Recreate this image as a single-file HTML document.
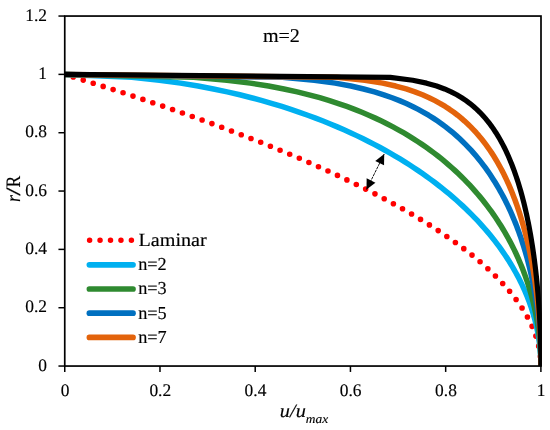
<!DOCTYPE html>
<html lang="en"><head><meta charset="utf-8"><title>Velocity profiles</title>
<style>html,body{margin:0;padding:0;background:#fff}svg{display:block}text{font-family:"Liberation Serif","DejaVu Serif",serif;text-rendering:geometricPrecision;fill:#000;stroke:#000;stroke-width:0.15px}</style></head><body>
<svg width="550" height="430" viewBox="0 0 550 430">
<rect width="550" height="430" fill="#fff"/>
<defs><clipPath id="plot"><rect x="64.0" y="15.3" width="477.75" height="351.5"/></clipPath></defs>
<g clip-path="url(#plot)">
<path d="M64.75,74.38 L74.23,77.30 L83.61,80.22 L92.89,83.13 L102.08,86.05 L111.17,88.97 L120.17,91.88 L129.08,94.80 L137.89,97.72 L146.60,100.63 L155.22,103.55 L163.74,106.47 L172.17,109.38 L180.50,112.30 L188.74,115.22 L196.88,118.13 L204.93,121.05 L212.88,123.97 L220.74,126.88 L228.50,129.80 L236.16,132.72 L243.73,135.63 L251.21,138.55 L258.59,141.47 L265.88,144.38 L273.07,147.30 L280.16,150.22 L287.16,153.13 L294.06,156.05 L300.87,158.97 L307.59,161.88 L314.20,164.80 L320.73,167.72 L327.16,170.63 L333.49,173.55 L339.73,176.47 L345.87,179.38 L351.92,182.30 L357.87,185.22 L363.72,188.13 L369.49,191.05 L375.15,193.97 L380.72,196.88 L386.20,199.80 L391.58,202.72 L396.86,205.63 L402.05,208.55 L407.15,211.47 L412.15,214.38 L417.05,217.30 L421.86,220.22 L426.58,223.13 L431.20,226.05 L435.72,228.97 L440.15,231.88 L444.48,234.80 L448.72,237.72 L452.86,240.63 L456.91,243.55 L460.86,246.47 L464.72,249.38 L468.48,252.30 L472.14,255.22 L475.72,258.13 L479.19,261.05 L482.57,263.97 L485.86,266.88 L489.05,269.80 L492.14,272.72 L495.14,275.63 L498.05,278.55 L500.86,281.47 L503.57,284.38 L506.19,287.30 L508.71,290.22 L511.14,293.13 L513.47,296.05 L515.71,298.97 L517.85,301.88 L519.90,304.80 L521.85,307.72 L523.71,310.63 L525.47,313.55 L527.14,316.47 L528.71,319.38 L530.19,322.30 L531.57,325.22 L532.85,328.13 L534.04,331.05 L535.14,333.97 L536.14,336.88 L537.04,339.80 L537.85,342.72 L538.57,345.63 L539.19,348.55 L539.71,351.47 L540.14,354.38 L540.47,357.30 L540.71,360.22 L540.85,363.13 L540.90,366.05" fill="none" stroke="#ff0000" stroke-width="5.6" stroke-linecap="round" stroke-dasharray="0 10.45" stroke-dashoffset="-8.9"/>
<path d="M64.75,74.38 L131.92,77.30 L159.50,80.22 L180.50,83.13 L198.07,86.05 L213.43,88.97 L227.20,91.88 L239.76,94.80 L251.36,97.72 L262.17,100.63 L272.30,103.55 L281.86,106.47 L290.91,109.38 L299.52,112.30 L307.73,115.22 L315.58,118.13 L323.10,121.05 L330.33,123.97 L337.28,126.88 L343.98,129.80 L350.44,132.72 L356.68,135.63 L362.71,138.55 L368.55,141.47 L374.21,144.38 L379.69,147.30 L385.01,150.22 L390.17,153.13 L395.19,156.05 L400.06,158.97 L404.79,161.88 L409.39,164.80 L413.87,167.72 L418.23,170.63 L422.47,173.55 L426.59,176.47 L430.61,179.38 L434.53,182.30 L438.34,185.22 L442.05,188.13 L445.67,191.05 L449.20,193.97 L452.63,196.88 L455.98,199.80 L459.24,202.72 L462.41,205.63 L465.51,208.55 L468.52,211.47 L471.46,214.38 L474.32,217.30 L477.11,220.22 L479.82,223.13 L482.46,226.05 L485.03,228.97 L487.53,231.88 L489.97,234.80 L492.33,237.72 L494.63,240.63 L496.87,243.55 L499.04,246.47 L501.15,249.38 L503.20,252.30 L505.18,255.22 L507.11,258.13 L508.98,261.05 L510.78,263.97 L512.53,266.88 L514.23,269.80 L515.86,272.72 L517.44,275.63 L518.97,278.55 L520.44,281.47 L521.85,284.38 L523.22,287.30 L524.52,290.22 L525.78,293.13 L526.98,296.05 L528.13,298.97 L529.23,301.88 L530.28,304.80 L531.28,307.72 L532.23,310.63 L533.12,313.55 L533.97,316.47 L534.77,319.38 L535.51,322.30 L536.21,325.22 L536.86,328.13 L537.46,331.05 L538.01,333.97 L538.51,336.88 L538.97,339.80 L539.37,342.72 L539.73,345.63 L540.04,348.55 L540.30,351.47 L540.52,354.38 L540.69,357.30 L540.80,360.22 L540.88,363.13 L540.90,366.05" fill="none" stroke="#00b0f0" stroke-width="5.5" stroke-linecap="butt" stroke-linejoin="round"/>
<path d="M64.75,74.38 L193.78,77.30 L227.05,80.22 L250.22,83.13 L268.54,86.05 L283.90,88.97 L297.23,91.88 L309.07,94.80 L319.75,97.72 L329.50,100.63 L338.48,103.55 L346.82,106.47 L354.61,109.38 L361.92,112.30 L368.81,115.22 L375.32,118.13 L381.50,121.05 L387.38,123.97 L392.99,126.88 L398.35,129.80 L403.47,132.72 L408.39,135.63 L413.11,138.55 L417.64,141.47 L422.01,144.38 L426.22,147.30 L430.28,150.22 L434.19,153.13 L437.98,156.05 L441.63,158.97 L445.17,161.88 L448.60,164.80 L451.92,167.72 L455.13,170.63 L458.25,173.55 L461.27,176.47 L464.20,179.38 L467.04,182.30 L469.80,185.22 L472.48,188.13 L475.08,191.05 L477.61,193.97 L480.07,196.88 L482.45,199.80 L484.77,202.72 L487.02,205.63 L489.21,208.55 L491.34,211.47 L493.40,214.38 L495.41,217.30 L497.36,220.22 L499.26,223.13 L501.10,226.05 L502.89,228.97 L504.62,231.88 L506.31,234.80 L507.94,237.72 L509.53,240.63 L511.07,243.55 L512.57,246.47 L514.02,249.38 L515.42,252.30 L516.78,255.22 L518.10,258.13 L519.37,261.05 L520.60,263.97 L521.80,266.88 L522.95,269.80 L524.06,272.72 L525.13,275.63 L526.16,278.55 L527.16,281.47 L528.12,284.38 L529.04,287.30 L529.92,290.22 L530.77,293.13 L531.58,296.05 L532.35,298.97 L533.09,301.88 L533.80,304.80 L534.46,307.72 L535.10,310.63 L535.70,313.55 L536.27,316.47 L536.80,319.38 L537.30,322.30 L537.77,325.22 L538.20,328.13 L538.60,331.05 L538.97,333.97 L539.31,336.88 L539.61,339.80 L539.88,342.72 L540.12,345.63 L540.33,348.55 L540.50,351.47 L540.65,354.38 L540.76,357.30 L540.84,360.22 L540.88,363.13 L540.90,366.05" fill="none" stroke="#2f8a30" stroke-width="5.5" stroke-linecap="butt" stroke-linejoin="round"/>
<path d="M64.75,74.38 L282.28,77.30 L314.37,80.22 L335.18,83.13 L350.91,86.05 L363.66,88.97 L374.45,91.88 L383.81,94.80 L392.11,97.72 L399.56,100.63 L406.33,103.55 L412.54,106.47 L418.27,109.38 L423.59,112.30 L428.56,115.22 L433.22,118.13 L437.60,121.05 L441.73,123.97 L445.65,126.88 L449.37,129.80 L452.90,132.72 L456.27,135.63 L459.49,138.55 L462.57,141.47 L465.51,144.38 L468.34,147.30 L471.05,150.22 L473.66,153.13 L476.17,156.05 L478.58,158.97 L480.91,161.88 L483.15,164.80 L485.32,167.72 L487.41,170.63 L489.43,173.55 L491.38,176.47 L493.27,179.38 L495.10,182.30 L496.87,185.22 L498.58,188.13 L500.24,191.05 L501.85,193.97 L503.41,196.88 L504.92,199.80 L506.38,202.72 L507.80,205.63 L509.18,208.55 L510.51,211.47 L511.80,214.38 L513.06,217.30 L514.28,220.22 L515.46,223.13 L516.60,226.05 L517.71,228.97 L518.79,231.88 L519.83,234.80 L520.84,237.72 L521.82,240.63 L522.77,243.55 L523.69,246.47 L524.58,249.38 L525.44,252.30 L526.28,255.22 L527.08,258.13 L527.86,261.05 L528.62,263.97 L529.34,266.88 L530.05,269.80 L530.72,272.72 L531.37,275.63 L532.00,278.55 L532.61,281.47 L533.19,284.38 L533.75,287.30 L534.28,290.22 L534.79,293.13 L535.28,296.05 L535.75,298.97 L536.20,301.88 L536.62,304.80 L537.03,307.72 L537.41,310.63 L537.77,313.55 L538.12,316.47 L538.44,319.38 L538.74,322.30 L539.02,325.22 L539.28,328.13 L539.52,331.05 L539.74,333.97 L539.94,336.88 L540.13,339.80 L540.29,342.72 L540.43,345.63 L540.56,348.55 L540.66,351.47 L540.75,354.38 L540.81,357.30 L540.86,360.22 L540.89,363.13 L540.90,366.05" fill="none" stroke="#0070c0" stroke-width="5.5" stroke-linecap="butt" stroke-linejoin="round"/>
<path d="M64.75,74.38 L336.85,77.30 L364.95,80.22 L382.62,83.13 L395.72,86.05 L406.19,88.97 L414.94,91.88 L422.48,94.80 L429.10,97.72 L435.00,100.63 L440.34,103.55 L445.20,106.47 L449.66,109.38 L453.79,112.30 L457.63,115.22 L461.22,118.13 L464.58,121.05 L467.75,123.97 L470.73,126.88 L473.56,129.80 L476.24,132.72 L478.79,135.63 L481.21,138.55 L483.53,141.47 L485.74,144.38 L487.86,147.30 L489.89,150.22 L491.84,153.13 L493.71,156.05 L495.50,158.97 L497.23,161.88 L498.90,164.80 L500.50,167.72 L502.05,170.63 L503.54,173.55 L504.98,176.47 L506.37,179.38 L507.72,182.30 L509.02,185.22 L510.27,188.13 L511.49,191.05 L512.67,193.97 L513.81,196.88 L514.91,199.80 L515.98,202.72 L517.01,205.63 L518.02,208.55 L518.99,211.47 L519.93,214.38 L520.84,217.30 L521.73,220.22 L522.59,223.13 L523.42,226.05 L524.22,228.97 L525.00,231.88 L525.75,234.80 L526.49,237.72 L527.19,240.63 L527.88,243.55 L528.54,246.47 L529.19,249.38 L529.81,252.30 L530.41,255.22 L530.99,258.13 L531.55,261.05 L532.09,263.97 L532.62,266.88 L533.12,269.80 L533.61,272.72 L534.08,275.63 L534.53,278.55 L534.96,281.47 L535.38,284.38 L535.78,287.30 L536.16,290.22 L536.53,293.13 L536.88,296.05 L537.22,298.97 L537.54,301.88 L537.84,304.80 L538.13,307.72 L538.41,310.63 L538.66,313.55 L538.91,316.47 L539.14,319.38 L539.35,322.30 L539.56,325.22 L539.74,328.13 L539.91,331.05 L540.07,333.97 L540.22,336.88 L540.35,339.80 L540.46,342.72 L540.57,345.63 L540.65,348.55 L540.73,351.47 L540.79,354.38 L540.84,357.30 L540.87,360.22 L540.89,363.13 L540.90,366.05" fill="none" stroke="#e3630b" stroke-width="5.5" stroke-linecap="butt" stroke-linejoin="round"/>
<path d="M64.75,74.38 L390.27,77.30 L412.76,80.22 L426.56,83.13 L436.62,86.05 L444.58,88.97 L451.17,91.88 L456.80,94.80 L461.72,97.72 L466.08,100.63 L470.00,103.55 L473.55,106.47 L476.81,109.38 L479.81,112.30 L482.59,115.22 L485.18,118.13 L487.60,121.05 L489.87,123.97 L492.01,126.88 L494.03,129.80 L495.94,132.72 L497.75,135.63 L499.47,138.55 L501.12,141.47 L502.68,144.38 L504.18,147.30 L505.61,150.22 L506.98,153.13 L508.29,156.05 L509.56,158.97 L510.77,161.88 L511.93,164.80 L513.06,167.72 L514.14,170.63 L515.18,173.55 L516.18,176.47 L517.15,179.38 L518.09,182.30 L518.99,185.22 L519.87,188.13 L520.71,191.05 L521.53,193.97 L522.32,196.88 L523.08,199.80 L523.82,202.72 L524.53,205.63 L525.23,208.55 L525.90,211.47 L526.55,214.38 L527.18,217.30 L527.78,220.22 L528.37,223.13 L528.95,226.05 L529.50,228.97 L530.04,231.88 L530.55,234.80 L531.06,237.72 L531.54,240.63 L532.01,243.55 L532.47,246.47 L532.91,249.38 L533.33,252.30 L533.74,255.22 L534.14,258.13 L534.53,261.05 L534.90,263.97 L535.25,266.88 L535.60,269.80 L535.93,272.72 L536.25,275.63 L536.56,278.55 L536.86,281.47 L537.14,284.38 L537.41,287.30 L537.68,290.22 L537.93,293.13 L538.17,296.05 L538.39,298.97 L538.61,301.88 L538.82,304.80 L539.02,307.72 L539.20,310.63 L539.38,313.55 L539.55,316.47 L539.70,319.38 L539.85,322.30 L539.99,325.22 L540.11,328.13 L540.23,331.05 L540.34,333.97 L540.44,336.88 L540.52,339.80 L540.60,342.72 L540.67,345.63 L540.73,348.55 L540.78,351.47 L540.83,354.38 L540.86,357.30 L540.88,360.22 L540.90,363.13 L540.90,366.05" fill="none" stroke="#000000" stroke-width="5.2" stroke-linecap="butt" stroke-linejoin="round"/>
</g>
<rect x="64.75" y="16.05" width="476.25" height="350.00" fill="none" stroke="#000" stroke-width="1.7"/>
<line x1="58.45" x2="64.75" y1="366.05" y2="366.05" stroke="#000" stroke-width="1.5"/>
<line x1="58.45" x2="64.75" y1="307.72" y2="307.72" stroke="#000" stroke-width="1.5"/>
<line x1="58.45" x2="64.75" y1="249.38" y2="249.38" stroke="#000" stroke-width="1.5"/>
<line x1="58.45" x2="64.75" y1="191.05" y2="191.05" stroke="#000" stroke-width="1.5"/>
<line x1="58.45" x2="64.75" y1="132.72" y2="132.72" stroke="#000" stroke-width="1.5"/>
<line x1="58.45" x2="64.75" y1="74.38" y2="74.38" stroke="#000" stroke-width="1.5"/>
<line x1="58.45" x2="64.75" y1="16.05" y2="16.05" stroke="#000" stroke-width="1.5"/>
<line x1="64.75" x2="64.75" y1="366.05" y2="371.95" stroke="#000" stroke-width="1.5"/>
<line x1="159.98" x2="159.98" y1="366.05" y2="371.95" stroke="#000" stroke-width="1.5"/>
<line x1="255.21" x2="255.21" y1="366.05" y2="371.95" stroke="#000" stroke-width="1.5"/>
<line x1="350.44" x2="350.44" y1="366.05" y2="371.95" stroke="#000" stroke-width="1.5"/>
<line x1="445.67" x2="445.67" y1="366.05" y2="371.95" stroke="#000" stroke-width="1.5"/>
<line x1="540.90" x2="540.90" y1="366.05" y2="371.95" stroke="#000" stroke-width="1.5"/>
<text x="38.3" y="370.70" font-size="17.8" textLength="8.7" lengthAdjust="spacingAndGlyphs">0</text>
<text x="25.2" y="312.37" font-size="17.8" textLength="21.8" lengthAdjust="spacingAndGlyphs">0.2</text>
<text x="25.2" y="254.03" font-size="17.8" textLength="21.8" lengthAdjust="spacingAndGlyphs">0.4</text>
<text x="25.2" y="195.70" font-size="17.8" textLength="21.8" lengthAdjust="spacingAndGlyphs">0.6</text>
<text x="25.2" y="137.37" font-size="17.8" textLength="21.8" lengthAdjust="spacingAndGlyphs">0.8</text>
<text x="38.3" y="79.03" font-size="17.8" textLength="8.7" lengthAdjust="spacingAndGlyphs">1</text>
<text x="25.2" y="20.70" font-size="17.8" textLength="21.8" lengthAdjust="spacingAndGlyphs">1.2</text>
<text x="60.7" y="396.4" font-size="17.8" textLength="8.7" lengthAdjust="spacingAndGlyphs">0</text>
<text x="149.4" y="396.4" font-size="17.8" textLength="21.8" lengthAdjust="spacingAndGlyphs">0.2</text>
<text x="244.6" y="396.4" font-size="17.8" textLength="21.8" lengthAdjust="spacingAndGlyphs">0.4</text>
<text x="339.8" y="396.4" font-size="17.8" textLength="21.8" lengthAdjust="spacingAndGlyphs">0.6</text>
<text x="435.1" y="396.4" font-size="17.8" textLength="21.8" lengthAdjust="spacingAndGlyphs">0.8</text>
<text x="536.8" y="396.4" font-size="17.8" textLength="8.7" lengthAdjust="spacingAndGlyphs">1</text>
<text x="262.9" y="41.75" font-size="19.6" textLength="37.0" lengthAdjust="spacingAndGlyphs">m=2</text>
<text x="279.8" y="417.3" font-size="19" font-style="italic" textLength="48.4" lengthAdjust="spacingAndGlyphs">u/u<tspan font-size="12.5" dy="5.7">max</tspan></text>
<g transform="translate(20.1,202.1) rotate(-90)" font-size="20.5"><text x="0" y="0" font-style="italic" textLength="7.0" lengthAdjust="spacingAndGlyphs">r</text><text x="6.3" y="0" textLength="8.4" lengthAdjust="spacingAndGlyphs">/</text><text x="14.7" y="0" textLength="11.8" lengthAdjust="spacingAndGlyphs">R</text></g>
<path d="M89.6,240.29999999999998 L132.2,240.29999999999998" fill="none" stroke="#ff0000" stroke-width="5.5" stroke-linecap="round" stroke-dasharray="0 10.45"/>
<line x1="89.4" x2="133" y1="264.8" y2="264.8" stroke="#00b0f0" stroke-width="5.7" stroke-linecap="round"/>
<line x1="89.4" x2="133" y1="289.0" y2="289.0" stroke="#2f8a30" stroke-width="5.7" stroke-linecap="round"/>
<line x1="89.4" x2="133" y1="313.2" y2="313.2" stroke="#0070c0" stroke-width="5.7" stroke-linecap="round"/>
<line x1="89.4" x2="133" y1="337.4" y2="337.4" stroke="#e3630b" stroke-width="5.7" stroke-linecap="round"/>
<text x="138.5" y="246.0" font-size="18.8" textLength="68.2" lengthAdjust="spacingAndGlyphs">Laminar</text>
<text x="138.2" y="270.2" font-size="18.3" textLength="28.5" lengthAdjust="spacingAndGlyphs">n=2</text>
<text x="138.2" y="294.4" font-size="18.3" textLength="28.5" lengthAdjust="spacingAndGlyphs">n=3</text>
<text x="138.2" y="318.6" font-size="18.3" textLength="28.5" lengthAdjust="spacingAndGlyphs">n=5</text>
<text x="138.2" y="342.8" font-size="18.3" textLength="28.5" lengthAdjust="spacingAndGlyphs">n=7</text>
<line x1="366.5" y1="189.6" x2="384.2" y2="154.0" stroke="#000" stroke-width="0.9" stroke-dasharray="3 0.8"/>
<polygon points="384.20,154.00 384.05,165.31 375.27,160.95" fill="#000"/>
<polygon points="366.50,189.60 366.65,178.29 375.43,182.65" fill="#000"/>
</svg></body></html>
